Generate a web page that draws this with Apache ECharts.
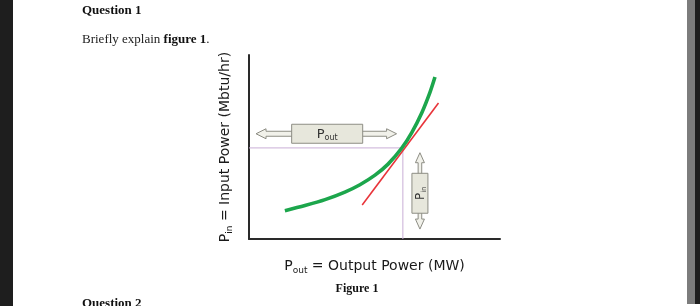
<!DOCTYPE html>
<html><head><meta charset="utf-8">
<script src="https://cdn.jsdelivr.net/npm/echarts@6/dist/echarts.min.js"></script>
<style>html,body{margin:0;padding:0;background:#fff}#c{width:700px;height:306px}</style>
</head><body><div id="c"></div>
<script>
// Curve data (arbitrary 0..100 units on both axes)
const greenX = [14.3, 22.3, 30.3, 38.2, 44.2, 50.2, 55.4, 60.8, 64.9, 68.9, 72.1, 74.1];
const greenY = [15.4, 18.2, 21.4, 25.5, 29.5, 34.7, 40.7, 49.3, 58.0, 68.8, 79.7, 88.0];
const redX = [45.1, 75.5];
const redY = [18.5, 73.9];
const opPoint = [61.3, 49.5];
// annotation arrows: [tipLeft, tipRight, y, boxLeft, boxRight]
const poutArrow = [2.8, 58.8, 57.2, 17.0, 45.3];
// [x, tipTop, tipBottom, boxTop, boxBottom]
const pinArrow = [68.1, 46.9, 5.4, 35.7, 14.0];
const xTitle = ['P', 'out', ' = Output Power (MW)'];
const yTitle = ['P', 'in', ' = Input Power (Mbtu/hr)'];

const chart = echarts.init(document.getElementById('c'), null, {renderer: 'canvas'});
const zip = (a, b) => a.map((v, i) => [v, b[i]]);
const titleFont = 'DejaVu Sans';
const boxFill = '#e7e7dc', arrowFill = '#f1f1ea', boxStroke = '#8d8d84';

function horizArrow(params, api) {
  const l = api.coord([api.value(0), api.value(2)]);
  const r = api.coord([api.value(1), api.value(2)]);
  const bl = api.coord([api.value(3), api.value(2)]);
  const br = api.coord([api.value(4), api.value(2)]);
  const y = l[1], xl = l[0], xr = r[0];
  const hl = 10, hh = 5, sh = 2.5;
  return {type: 'group', children: [
    {type: 'polygon', shape: {points: [[xl, y], [xl + hl, y - hh], [xl + hl, y - sh], [xr - hl, y - sh], [xr - hl, y - hh], [xr, y], [xr - hl, y + hh], [xr - hl, y + sh], [xl + hl, y + sh], [xl + hl, y + hh]]},
      style: {fill: arrowFill, stroke: boxStroke, lineWidth: 1}},
    {type: 'rect', shape: {x: bl[0], y: y - 9.5, width: br[0] - bl[0], height: 19},
      style: {fill: boxFill, stroke: boxStroke, lineWidth: 1}},
    {type: 'text', x: (bl[0] + br[0]) / 2, y: y + 1,
      style: {text: '{p|P}{s|out}', align: 'center', verticalAlign: 'middle',
        rich: {p: {fontFamily: titleFont, fontSize: 13, fill: '#333', verticalAlign: 'top', lineHeight: 14},
               s: {fontFamily: titleFont, fontSize: 8, fill: '#333', verticalAlign: 'bottom', lineHeight: 8}}}}
  ]};
}
function vertArrow(params, api) {
  const t = api.coord([api.value(0), api.value(1)]);
  const b = api.coord([api.value(0), api.value(2)]);
  const bt = api.coord([api.value(0), api.value(3)]);
  const bb = api.coord([api.value(0), api.value(4)]);
  const x = t[0], yt = t[1], yb = b[1];
  const hl = 10, hh = 4.5, sh = 1.8;
  return {type: 'group', children: [
    {type: 'polygon', shape: {points: [[x, yt], [x + hh, yt + hl], [x + sh, yt + hl], [x + sh, yb - hl], [x + hh, yb - hl], [x, yb], [x - hh, yb - hl], [x - sh, yb - hl], [x - sh, yt + hl], [x - hh, yt + hl]]},
      style: {fill: arrowFill, stroke: boxStroke, lineWidth: 1}},
    {type: 'rect', shape: {x: x - 8, y: bt[1], width: 16, height: bb[1] - bt[1]},
      style: {fill: boxFill, stroke: boxStroke, lineWidth: 1}},
    {type: 'text', x: x + 1, y: (bt[1] + bb[1]) / 2, rotation: Math.PI / 2,
      style: {text: '{p|P}{s|in}', align: 'center', verticalAlign: 'middle',
        rich: {p: {fontFamily: titleFont, fontSize: 12, fill: '#333', verticalAlign: 'top', lineHeight: 13},
               s: {fontFamily: titleFont, fontSize: 7, fill: '#333', verticalAlign: 'bottom', lineHeight: 7}}}}
  ]};
}

const nameRich = {
  p: {fontFamily: titleFont, fontSize: 14, color: '#1a1a1a', verticalAlign: 'top', lineHeight: 16},
  s: {fontFamily: titleFont, fontSize: 9, color: '#1a1a1a', verticalAlign: 'bottom', lineHeight: 9},
  t: {fontFamily: titleFont, fontSize: 14, color: '#1a1a1a', verticalAlign: 'top', lineHeight: 16}
};

chart.setOption({
  animation: false,
  backgroundColor: '#ffffff',
  grid: {left: 249, right: 200, top: 55, bottom: 67},
  xAxis: {type: 'value', min: 0, max: 100, splitLine: {show: false}, axisTick: {show: false}, axisLabel: {show: false},
    axisLine: {show: true, lineStyle: {color: '#2a2a2a', width: 2}},
    name: '{p|' + xTitle[0] + '}{s|' + xTitle[1] + '}{t|' + xTitle[2] + '}', nameLocation: 'middle', nameGap: 20,
    nameTextStyle: {rich: nameRich}},
  yAxis: {type: 'value', min: 0, max: 100, splitLine: {show: false}, axisTick: {show: false}, axisLabel: {show: false},
    axisLine: {show: true, lineStyle: {color: '#2a2a2a', width: 2}},
    name: '{p|' + yTitle[0] + '}{s|' + yTitle[1] + '}{t|' + yTitle[2] + '}', nameLocation: 'middle', nameGap: 15,
    nameTextStyle: {rich: nameRich}},
  series: [
    {type: 'line', data: [[0, opPoint[1]], opPoint, [opPoint[0], 0]], symbol: 'none', z: 1,
      lineStyle: {color: '#c9aed6', width: 1}},
    {type: 'line', data: zip(redX, redY), symbol: 'none', z: 2, lineStyle: {color: '#e8343a', width: 1.6}},
    {type: 'line', data: zip(greenX, greenY), symbol: 'none', smooth: 0.3, z: 3, lineStyle: {color: '#1ca64c', width: 3.6}},
    {type: 'custom', renderItem: horizArrow, data: [poutArrow], z: 4, silent: true},
    {type: 'custom', renderItem: vertArrow, data: [pinArrow], z: 4, silent: true}
  ],
  graphic: [
    {type: 'rect', shape: {x: 0, y: 0, width: 13, height: 306}, style: {fill: '#1e1e1e'}},
    {type: 'rect', shape: {x: 687, y: 0, width: 8, height: 304}, style: {fill: '#7c7c7c'}},
    {type: 'rect', shape: {x: 695, y: 0, width: 5, height: 304}, style: {fill: '#1e1e1e'}},
    {type: 'text', x: 82, y: 4, style: {text: 'Question 1', font: 'bold 13px "Liberation Serif"', fill: '#111'}},
    {type: 'text', x: 82, y: 33, style: {text: '{n|Briefly explain }{b|figure 1}{n|.}',
      rich: {n: {font: '13px "Liberation Serif"', fill: '#222'}, b: {font: 'bold 13px "Liberation Serif"', fill: '#111'}}}},
    {type: 'text', x: 357, y: 283, style: {text: 'Figure 1', align: 'center', font: 'bold 12px "Liberation Serif"', fill: '#111'}},
    {type: 'text', x: 82, y: 297, style: {text: 'Question 2', font: 'bold 13px "Liberation Serif"', fill: '#111'}}
  ]
});
</script></body></html>
